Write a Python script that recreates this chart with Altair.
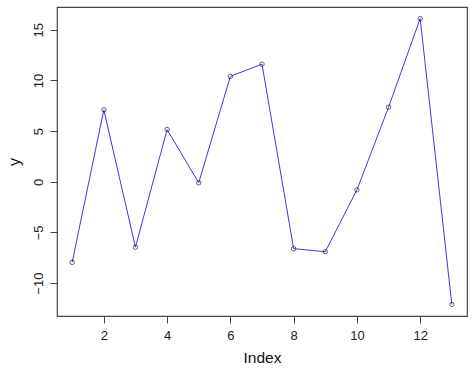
import altair as alt
import pandas as pd

index = list(range(1, 14))
y_values = [-7.95, 7.1, -6.45, 5.15, -0.1, 10.4, 11.6, -6.6, -6.9, -0.8, 7.35, 16.1, -12.1]

df = pd.DataFrame({"Index": index, "y": y_values})

x_scale = alt.Scale(domain=[0.52, 13.48], nice=False, zero=False)
y_scale = alt.Scale(domain=[-13.24, 17.24], nice=False, zero=False)

x_axis = alt.Axis(
    values=[2, 4, 6, 8, 10, 12], grid=False, domain=False,
    tickSize=7, tickColor="#444444", labelColor="#222222",
    labelFontSize=13, labelPadding=6, labelFont="Liberation Sans",
    title="Index", titleFontSize=15.5, titleFontWeight="normal",
    titleFont="Liberation Sans", titleColor="#111111", titlePadding=8,
)
y_axis = alt.Axis(
    values=[-10, -5, 0, 5, 10, 15], grid=False, domain=False,
    tickSize=7, tickColor="#444444", labelColor="#222222",
    labelFontSize=13, labelPadding=5, labelFont="Liberation Sans",
    labelAngle=-90, labelAlign="center", labelBaseline="bottom",
    title="y", titleFontSize=16, titleFontWeight="normal",
    titleFont="Liberation Sans", titleColor="#111111", titlePadding=10,
)

base = alt.Chart(df).encode(
    x=alt.X("Index:Q", scale=x_scale, axis=x_axis),
    y=alt.Y("y:Q", scale=y_scale, axis=y_axis),
)

line = base.mark_line(color="#3a3aee", strokeWidth=1)
points = base.mark_point(shape="circle", filled=False, color="#111111", size=20, strokeWidth=0.9)

chart = (line + points).properties(
    width=410, height=309,
    autosize=alt.AutoSizeParams(type="none"),
    padding={"left": 57, "top": 7, "right": 7, "bottom": 54},
    background="white",
).configure_view(stroke="#444444", strokeWidth=1.2)

chart.save("out.html", embed_options={"renderer": "svg", "actions": False})
